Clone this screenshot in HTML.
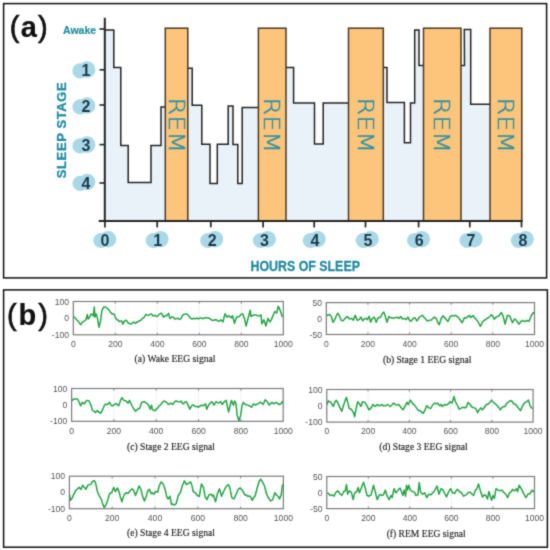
<!DOCTYPE html><html><head><meta charset="utf-8"><style>html,body{margin:0;padding:0;background:#fff;}svg{display:block}</style></head><body>
<svg width="550" height="550" viewBox="0 0 550 550">
<defs><filter id="sf" filterUnits="userSpaceOnUse" x="0" y="0" width="550" height="550" color-interpolation-filters="sRGB"><feConvolveMatrix order="3" kernelMatrix="0.03 0.09 0.03 0.09 0.52 0.09 0.03 0.09 0.03" edgeMode="duplicate"/></filter></defs>
<rect x="0" y="0" width="550" height="550" fill="#fff"/>
<g filter="url(#sf)">
<rect x="3.6" y="3.6" width="543.0" height="274.3" fill="none" stroke="#111" stroke-width="1.5"/>
<rect x="3.6" y="289.9" width="543.8" height="257.3" fill="none" stroke="#111" stroke-width="1.5"/>
<text x="9.8" y="36.6" font-family="Liberation Sans, sans-serif" font-size="29" fill="#111" stroke="#111" stroke-width="0.7" letter-spacing="1.2">(<tspan font-weight="bold" stroke-width="0.2">a</tspan>)</text>
<text x="7.0" y="325.3" font-family="Liberation Sans, sans-serif" font-size="29" fill="#111" stroke="#111" stroke-width="0.7" letter-spacing="1.9">(<tspan font-weight="bold" stroke-width="0.2">b</tspan>)</text>
<polygon points="104.8,221 105,30 113.8,30 113.8,67.6 120.8,67.6 120.8,145.5 128.2,145.5 128.2,182.5 151,182.5 151,145.5 161,145.5 161,107 165.3,107 165.3,28.2 187.8,28.2 187.8,68.2 192.2,68.2 192.2,105.3 201.8,105.3 201.8,144.2 210,144.2 210,183.6 217.3,183.6 217.3,144.2 228.2,144.2 228.2,106 233,106 233,144.5 237.8,144.5 237.8,183.6 242.2,183.6 242.2,107.6 258.4,107.6 258.4,28.2 286,28.2 286,67.6 293.6,67.6 293.6,103 314.5,103 314.5,144 323.2,144 323.2,103 348.5,103 348.5,28.2 383.3,28.2 383.3,67.6 387,67.6 387,102.5 404.4,102.5 404.4,142.8 410.5,142.8 410.5,103 414.7,103 414.7,30 419,30 419,65.5 423.5,65.5 423.5,28.2 461,28.2 461,65.5 464.5,65.5 464.3,29.5 470.7,29.5 470.7,104.2 490,104.2 490,28.2 521.8,28.2 521.8,221" fill="#e9f2f9"/>
<polyline points="105,30 113.8,30 113.8,67.6 120.8,67.6 120.8,145.5 128.2,145.5 128.2,182.5 151,182.5 151,145.5 161,145.5 161,107 165.3,107" fill="none" stroke="#242424" stroke-width="1.5" stroke-linejoin="miter"/>
<polyline points="187.8,68.2 192.2,68.2 192.2,105.3 201.8,105.3 201.8,144.2 210,144.2 210,183.6 217.3,183.6 217.3,144.2 228.2,144.2 228.2,106 233,106 233,144.5 237.8,144.5 237.8,183.6 242.2,183.6 242.2,107.6 258.4,107.6" fill="none" stroke="#242424" stroke-width="1.5" stroke-linejoin="miter"/>
<polyline points="286,67.6 293.6,67.6 293.6,103 314.5,103 314.5,144 323.2,144 323.2,103 348.5,103" fill="none" stroke="#242424" stroke-width="1.5" stroke-linejoin="miter"/>
<polyline points="383.3,67.6 387,67.6 387,102.5 404.4,102.5 404.4,142.8 410.5,142.8 410.5,103 414.7,103 414.7,30 419,30 419,65.5 423.5,65.5" fill="none" stroke="#242424" stroke-width="1.5" stroke-linejoin="miter"/>
<polyline points="461,65.5 464.5,65.5 464.3,29.5 470.7,29.5 470.7,104.2 490,104.2" fill="none" stroke="#242424" stroke-width="1.5" stroke-linejoin="miter"/>
<rect x="165.3" y="28.2" width="22.5" height="192.8" fill="#fcc57b" stroke="#4a3a27" stroke-width="1.5"/>
<text transform="translate(168.65,125.5) rotate(90) scale(1.13,1)" text-anchor="middle" font-family="DejaVu Sans, sans-serif" font-weight="200" font-size="22" letter-spacing="0.3" fill="#2f90a4" stroke="#2f90a4" stroke-width="0.5">REM</text>
<rect x="258.4" y="28.2" width="27.600000000000023" height="192.8" fill="#fcc57b" stroke="#4a3a27" stroke-width="1.5"/>
<text transform="translate(264.3,125.5) rotate(90) scale(1.13,1)" text-anchor="middle" font-family="DejaVu Sans, sans-serif" font-weight="200" font-size="22" letter-spacing="0.3" fill="#2f90a4" stroke="#2f90a4" stroke-width="0.5">REM</text>
<rect x="348.5" y="28.2" width="34.80000000000001" height="192.8" fill="#fcc57b" stroke="#4a3a27" stroke-width="1.5"/>
<text transform="translate(358.0,125.5) rotate(90) scale(1.13,1)" text-anchor="middle" font-family="DejaVu Sans, sans-serif" font-weight="200" font-size="22" letter-spacing="0.3" fill="#2f90a4" stroke="#2f90a4" stroke-width="0.5">REM</text>
<rect x="423.5" y="28.2" width="37.5" height="192.8" fill="#fcc57b" stroke="#4a3a27" stroke-width="1.5"/>
<text transform="translate(434.35,125.5) rotate(90) scale(1.13,1)" text-anchor="middle" font-family="DejaVu Sans, sans-serif" font-weight="200" font-size="22" letter-spacing="0.3" fill="#2f90a4" stroke="#2f90a4" stroke-width="0.5">REM</text>
<rect x="490" y="28.2" width="31.799999999999955" height="192.8" fill="#fcc57b" stroke="#4a3a27" stroke-width="1.5"/>
<text transform="translate(498.0,125.5) rotate(90) scale(1.13,1)" text-anchor="middle" font-family="DejaVu Sans, sans-serif" font-weight="200" font-size="22" letter-spacing="0.3" fill="#2f90a4" stroke="#2f90a4" stroke-width="0.5">REM</text>
<line x1="104.8" y1="17.8" x2="104.8" y2="221.9" stroke="#242424" stroke-width="2"/>
<line x1="98.7" y1="221" x2="522.5" y2="221" stroke="#242424" stroke-width="1.8"/>
<line x1="99.5" y1="29" x2="104.8" y2="29" stroke="#242424" stroke-width="1.6"/>
<line x1="99.5" y1="69.8" x2="104.8" y2="69.8" stroke="#242424" stroke-width="1.6"/>
<line x1="99.5" y1="105" x2="104.8" y2="105" stroke="#242424" stroke-width="1.6"/>
<line x1="99.5" y1="144.6" x2="104.8" y2="144.6" stroke="#242424" stroke-width="1.6"/>
<line x1="99.5" y1="183.0" x2="104.8" y2="183.0" stroke="#242424" stroke-width="1.6"/>
<line x1="104.9" y1="221" x2="104.9" y2="227.4" stroke="#242424" stroke-width="1.7"/>
<line x1="157.2" y1="221" x2="157.2" y2="227.4" stroke="#242424" stroke-width="1.7"/>
<line x1="210.8" y1="221" x2="210.8" y2="227.4" stroke="#242424" stroke-width="1.7"/>
<line x1="263.1" y1="221" x2="263.1" y2="227.4" stroke="#242424" stroke-width="1.7"/>
<line x1="314.2" y1="221" x2="314.2" y2="227.4" stroke="#242424" stroke-width="1.7"/>
<line x1="365.5" y1="221" x2="365.5" y2="227.4" stroke="#242424" stroke-width="1.7"/>
<line x1="418.6" y1="221" x2="418.6" y2="227.4" stroke="#242424" stroke-width="1.7"/>
<line x1="469.8" y1="221" x2="469.8" y2="227.4" stroke="#242424" stroke-width="1.7"/>
<line x1="521.5" y1="221" x2="521.5" y2="227.4" stroke="#242424" stroke-width="1.7"/>
<text x="96.1" y="33.5" text-anchor="end" font-family="Liberation Sans, sans-serif" font-weight="bold" font-size="10.5" fill="#238ca2" stroke="#238ca2" stroke-width="0.2">Awake</text>
<ellipse cx="80.20" cy="70.90" rx="7.80" ry="7.60" fill="#a9d8e8"/><ellipse cx="87.20" cy="69.60" rx="8.20" ry="8.30" fill="#a9d8e8"/>
<text x="86" y="76.1" text-anchor="middle" font-family="Liberation Sans, sans-serif" font-weight="bold" font-size="16" fill="#1c3a47">1</text>
<ellipse cx="80.20" cy="106.80" rx="7.80" ry="7.60" fill="#a9d8e8"/><ellipse cx="87.20" cy="105.50" rx="8.20" ry="8.30" fill="#a9d8e8"/>
<text x="86" y="112.0" text-anchor="middle" font-family="Liberation Sans, sans-serif" font-weight="bold" font-size="16" fill="#1c3a47">2</text>
<ellipse cx="80.20" cy="145.90" rx="7.80" ry="7.60" fill="#a9d8e8"/><ellipse cx="87.20" cy="144.60" rx="8.20" ry="8.30" fill="#a9d8e8"/>
<text x="86" y="151.1" text-anchor="middle" font-family="Liberation Sans, sans-serif" font-weight="bold" font-size="16" fill="#1c3a47">3</text>
<ellipse cx="80.20" cy="183.30" rx="7.80" ry="7.60" fill="#a9d8e8"/><ellipse cx="87.20" cy="182.00" rx="8.20" ry="8.30" fill="#a9d8e8"/>
<text x="86" y="188.5" text-anchor="middle" font-family="Liberation Sans, sans-serif" font-weight="bold" font-size="16" fill="#1c3a47">4</text>
<ellipse cx="101.10" cy="240.50" rx="7.80" ry="7.60" fill="#a9d8e8"/><ellipse cx="108.10" cy="239.20" rx="8.20" ry="8.30" fill="#a9d8e8"/>
<text x="105.0" y="246.0" text-anchor="middle" font-family="Liberation Sans, sans-serif" font-weight="bold" font-size="16" fill="#1c3a47">0</text>
<ellipse cx="153.40" cy="240.50" rx="7.80" ry="7.60" fill="#a9d8e8"/><ellipse cx="160.40" cy="239.20" rx="8.20" ry="8.30" fill="#a9d8e8"/>
<text x="157.7" y="246.0" text-anchor="middle" font-family="Liberation Sans, sans-serif" font-weight="bold" font-size="16" fill="#1c3a47">1</text>
<ellipse cx="208.00" cy="240.50" rx="7.80" ry="7.60" fill="#a9d8e8"/><ellipse cx="215.00" cy="239.20" rx="8.20" ry="8.30" fill="#a9d8e8"/>
<text x="212.2" y="246.0" text-anchor="middle" font-family="Liberation Sans, sans-serif" font-weight="bold" font-size="16" fill="#1c3a47">2</text>
<ellipse cx="260.70" cy="240.50" rx="7.80" ry="7.60" fill="#a9d8e8"/><ellipse cx="267.70" cy="239.20" rx="8.20" ry="8.30" fill="#a9d8e8"/>
<text x="264.5" y="246.0" text-anchor="middle" font-family="Liberation Sans, sans-serif" font-weight="bold" font-size="16" fill="#1c3a47">3</text>
<ellipse cx="310.50" cy="240.50" rx="7.80" ry="7.60" fill="#a9d8e8"/><ellipse cx="317.50" cy="239.20" rx="8.20" ry="8.30" fill="#a9d8e8"/>
<text x="314.9" y="246.0" text-anchor="middle" font-family="Liberation Sans, sans-serif" font-weight="bold" font-size="16" fill="#1c3a47">4</text>
<ellipse cx="363.50" cy="240.50" rx="7.80" ry="7.60" fill="#a9d8e8"/><ellipse cx="370.50" cy="239.20" rx="8.20" ry="8.30" fill="#a9d8e8"/>
<text x="367.9" y="246.0" text-anchor="middle" font-family="Liberation Sans, sans-serif" font-weight="bold" font-size="16" fill="#1c3a47">5</text>
<ellipse cx="414.80" cy="240.50" rx="7.80" ry="7.60" fill="#a9d8e8"/><ellipse cx="421.80" cy="239.20" rx="8.20" ry="8.30" fill="#a9d8e8"/>
<text x="419.3" y="246.0" text-anchor="middle" font-family="Liberation Sans, sans-serif" font-weight="bold" font-size="16" fill="#1c3a47">6</text>
<ellipse cx="467.30" cy="240.50" rx="7.80" ry="7.60" fill="#a9d8e8"/><ellipse cx="474.30" cy="239.20" rx="8.20" ry="8.30" fill="#a9d8e8"/>
<text x="471.0" y="246.0" text-anchor="middle" font-family="Liberation Sans, sans-serif" font-weight="bold" font-size="16" fill="#1c3a47">7</text>
<ellipse cx="518.60" cy="240.50" rx="7.80" ry="7.60" fill="#a9d8e8"/><ellipse cx="525.60" cy="239.20" rx="8.20" ry="8.30" fill="#a9d8e8"/>
<text x="523.0" y="246.0" text-anchor="middle" font-family="Liberation Sans, sans-serif" font-weight="bold" font-size="16" fill="#1c3a47">8</text>
<text transform="translate(65.6,130) rotate(-90)" text-anchor="middle" font-family="Liberation Sans, sans-serif" font-weight="bold" font-size="13" letter-spacing="0.6" fill="#238ca6" stroke="#238ca6" stroke-width="0.3">SLEEP STAGE</text>
<text transform="translate(305.2,271.4) scale(1,1.19)" text-anchor="middle" font-family="Liberation Sans, sans-serif" font-weight="bold" font-size="12.4" fill="#248aa2" stroke="#248aa2" stroke-width="0.25">HOURS OF SLEEP</text>
<line x1="115.30" y1="301.5" x2="115.30" y2="334.8" stroke="#e2e2e2" stroke-width="1" stroke-dasharray="1,1"/>
<line x1="115.30" y1="301.5" x2="115.30" y2="303.5" stroke="#7c7c7c" stroke-width="1"/>
<line x1="115.30" y1="332.8" x2="115.30" y2="334.8" stroke="#7c7c7c" stroke-width="1"/>
<line x1="157.30" y1="301.5" x2="157.30" y2="334.8" stroke="#e2e2e2" stroke-width="1" stroke-dasharray="1,1"/>
<line x1="157.30" y1="301.5" x2="157.30" y2="303.5" stroke="#7c7c7c" stroke-width="1"/>
<line x1="157.30" y1="332.8" x2="157.30" y2="334.8" stroke="#7c7c7c" stroke-width="1"/>
<line x1="199.30" y1="301.5" x2="199.30" y2="334.8" stroke="#e2e2e2" stroke-width="1" stroke-dasharray="1,1"/>
<line x1="199.30" y1="301.5" x2="199.30" y2="303.5" stroke="#7c7c7c" stroke-width="1"/>
<line x1="199.30" y1="332.8" x2="199.30" y2="334.8" stroke="#7c7c7c" stroke-width="1"/>
<line x1="241.30" y1="301.5" x2="241.30" y2="334.8" stroke="#e2e2e2" stroke-width="1" stroke-dasharray="1,1"/>
<line x1="241.30" y1="301.5" x2="241.30" y2="303.5" stroke="#7c7c7c" stroke-width="1"/>
<line x1="241.30" y1="332.8" x2="241.30" y2="334.8" stroke="#7c7c7c" stroke-width="1"/>
<line x1="73.3" y1="318.15" x2="283.3" y2="318.15" stroke="#ececec" stroke-width="1" stroke-dasharray="1,1.5"/>
<polyline points="73.5,316.5 75.3,318.1 77.1,320.3 78.4,321.1 79.6,323.5 80.9,324.7 82.2,322.3 83.5,321.5 84.8,320.6 86.0,319.6 87.3,314.5 88.2,319.0 89.8,317.1 91.0,314.0 92.4,314.5 93.4,316.0 94.3,306.9 94.9,317.1 96.2,313.9 97.5,318.4 99.0,327.3 100.6,320.9 101.9,310.7 103.8,306.9 105.1,307.0 106.4,307.5 107.6,308.8 108.9,309.6 110.2,312.0 112.1,313.9 114.0,313.9 115.2,316.8 116.5,319.6 117.8,319.7 119.1,321.5 120.3,321.1 121.6,320.9 122.9,324.1 124.2,321.4 125.5,320.3 126.8,320.8 128.0,322.8 129.2,323.3 130.5,324.1 131.8,323.7 133.1,322.2 134.3,322.2 135.6,323.5 136.9,322.0 138.2,321.5 139.8,320.8 141.4,319.6 142.5,318.4 144.1,317.3 145.7,314.5 147.3,315.0 148.9,315.2 150.2,314.4 151.5,313.9 152.8,315.7 154.0,315.8 155.2,315.3 156.5,316.5 157.8,316.1 159.1,314.5 160.3,313.5 161.6,313.3 163.5,317.1 165.1,315.8 166.7,315.8 168.6,313.3 169.9,318.4 171.5,317.1 173.1,317.1 175.0,319.0 176.6,318.4 178.2,318.4 179.4,319.3 180.7,319.0 182.0,316.2 183.3,314.5 184.6,314.3 185.8,313.9 187.7,314.5 189.6,317.1 190.9,318.3 192.2,319.0 193.4,318.5 194.7,318.4 196.0,318.7 197.2,318.0 198.5,319.0 199.8,318.0 201.1,318.1 202.4,318.4 203.7,318.5 204.9,317.8 206.2,317.7 207.8,317.7 209.4,318.4 211.1,319.6 212.7,320.5 214.1,320.1 215.5,319.8 216.8,320.1 218.2,321.2 219.6,321.0 220.9,319.8 223.0,321.9 225.0,313.7 227.0,317.1 229.1,315.7 231.1,317.8 232.5,315.7 234.5,323.2 236.6,317.1 237.9,317.1 239.3,316.4 241.0,314.6 242.7,313.7 244.8,319.8 246.1,326.0 248.2,317.8 250.2,310.3 250.9,316.4 252.2,315.8 253.6,315.0 255.0,315.0 256.4,315.0 257.8,316.0 259.1,315.7 261.1,315.0 261.8,323.9 263.9,319.8 265.9,326.0 268.0,318.5 270.0,321.9 271.4,319.6 272.7,316.4 274.8,311.6 276.8,313.0 278.2,306.2 280.2,310.3 282.3,317.1" fill="none" stroke="#25a545" stroke-width="1.5" stroke-linejoin="round"/>
<rect x="73.3" y="301.5" width="210.00" height="33.30" fill="none" stroke="#7c7c7c" stroke-width="1.2"/>
<text x="69.00" y="304.50" text-anchor="end" font-family="Liberation Sans, sans-serif" font-size="8.6" fill="#555">100</text>
<text x="69.00" y="321.15" text-anchor="end" font-family="Liberation Sans, sans-serif" font-size="8.6" fill="#555">0</text>
<text x="69.00" y="337.80" text-anchor="end" font-family="Liberation Sans, sans-serif" font-size="8.6" fill="#555">-100</text>
<text x="73.30" y="347.10" text-anchor="middle" font-family="Liberation Sans, sans-serif" font-size="8.6" fill="#555">0</text>
<text x="115.30" y="347.10" text-anchor="middle" font-family="Liberation Sans, sans-serif" font-size="8.6" fill="#555">200</text>
<text x="157.30" y="347.10" text-anchor="middle" font-family="Liberation Sans, sans-serif" font-size="8.6" fill="#555">400</text>
<text x="199.30" y="347.10" text-anchor="middle" font-family="Liberation Sans, sans-serif" font-size="8.6" fill="#555">600</text>
<text x="241.30" y="347.10" text-anchor="middle" font-family="Liberation Sans, sans-serif" font-size="8.6" fill="#555">800</text>
<text x="283.30" y="347.10" text-anchor="middle" font-family="Liberation Sans, sans-serif" font-size="8.6" fill="#555">1000</text>
<text x="175" y="361.79999999999995" text-anchor="middle" font-family="Liberation Serif, serif" font-size="9.6" fill="#222" stroke="#222" stroke-width="0.15">(a) Wake EEG signal</text>
<line x1="367.94" y1="302.6" x2="367.94" y2="334.5" stroke="#e2e2e2" stroke-width="1" stroke-dasharray="1,1"/>
<line x1="367.94" y1="302.6" x2="367.94" y2="304.6" stroke="#7c7c7c" stroke-width="1"/>
<line x1="367.94" y1="332.5" x2="367.94" y2="334.5" stroke="#7c7c7c" stroke-width="1"/>
<line x1="409.58" y1="302.6" x2="409.58" y2="334.5" stroke="#e2e2e2" stroke-width="1" stroke-dasharray="1,1"/>
<line x1="409.58" y1="302.6" x2="409.58" y2="304.6" stroke="#7c7c7c" stroke-width="1"/>
<line x1="409.58" y1="332.5" x2="409.58" y2="334.5" stroke="#7c7c7c" stroke-width="1"/>
<line x1="451.22" y1="302.6" x2="451.22" y2="334.5" stroke="#e2e2e2" stroke-width="1" stroke-dasharray="1,1"/>
<line x1="451.22" y1="302.6" x2="451.22" y2="304.6" stroke="#7c7c7c" stroke-width="1"/>
<line x1="451.22" y1="332.5" x2="451.22" y2="334.5" stroke="#7c7c7c" stroke-width="1"/>
<line x1="492.86" y1="302.6" x2="492.86" y2="334.5" stroke="#e2e2e2" stroke-width="1" stroke-dasharray="1,1"/>
<line x1="492.86" y1="302.6" x2="492.86" y2="304.6" stroke="#7c7c7c" stroke-width="1"/>
<line x1="492.86" y1="332.5" x2="492.86" y2="334.5" stroke="#7c7c7c" stroke-width="1"/>
<line x1="326.3" y1="318.55" x2="534.5" y2="318.55" stroke="#ececec" stroke-width="1" stroke-dasharray="1,1.5"/>
<polyline points="326.5,315.8 328.1,314.8 329.7,314.5 331.6,317.1 332.9,322.2 334.2,320.8 335.5,317.7 336.8,314.8 338.0,313.3 339.3,315.8 341.2,320.3 343.1,320.9 345.0,318.4 346.2,317.3 347.5,316.5 349.5,319.0 351.4,318.4 353.3,320.3 355.2,315.2 357.1,320.3 358.4,320.1 359.6,319.0 360.9,317.1 362.8,320.9 364.7,318.4 366.0,318.4 367.3,319.6 369.2,316.5 370.5,322.2 372.4,318.4 374.3,317.1 376.2,322.2 378.1,317.7 379.4,317.4 380.6,317.1 382.2,313.7 383.8,312.0 385.1,315.8 387.0,322.2 388.9,316.5 390.2,317.4 391.5,317.7 393.0,318.2 394.5,317.7 395.8,317.5 397.1,317.1 399.0,318.4 400.9,316.5 402.2,319.0 404.1,318.4 406.0,319.6 407.9,317.1 409.8,320.9 411.1,320.9 412.4,319.6 413.6,318.3 414.9,317.7 416.8,320.9 418.1,319.4 419.4,317.1 420.9,316.3 422.5,315.2 423.8,316.9 425.1,318.4 427.0,320.9 428.6,320.5 430.2,320.3 431.4,320.0 432.7,318.4 434.6,317.1 436.5,319.0 437.9,322.7 439.3,324.7 441.0,319.0 442.9,315.8 444.2,317.1 445.5,318.4 446.8,320.2 448.0,321.5 449.9,317.1 451.2,315.7 452.5,315.8 454.1,315.9 455.6,315.2 456.9,316.4 458.2,317.1 460.0,319.8 462.2,322.7 464.4,317.6 465.9,318.1 467.3,316.9 469.5,315.5 470.9,317.6 473.1,315.5 474.6,317.9 476.0,319.1 478.2,322.0 480.4,326.4 482.5,322.0 484.0,320.5 485.5,319.8 486.9,318.5 488.4,317.6 489.9,316.5 491.3,314.7 492.8,316.0 494.2,319.1 496.4,316.9 498.5,316.2 500.0,314.3 501.5,312.5 503.3,316.9 505.1,324.2 507.3,315.5 508.8,315.6 510.2,316.9 512.4,322.7 514.5,319.1 516.0,319.9 517.5,322.0 518.9,324.2 521.1,321.3 522.5,320.5 524.0,321.3 525.5,321.4 526.9,320.5 529.1,321.3 531.3,315.5 533.5,312.5 534.3,314.0" fill="none" stroke="#25a545" stroke-width="1.5" stroke-linejoin="round"/>
<rect x="326.3" y="302.6" width="208.20" height="31.90" fill="none" stroke="#7c7c7c" stroke-width="1.2"/>
<text x="322.00" y="305.60" text-anchor="end" font-family="Liberation Sans, sans-serif" font-size="8.6" fill="#555">50</text>
<text x="322.00" y="321.55" text-anchor="end" font-family="Liberation Sans, sans-serif" font-size="8.6" fill="#555">0</text>
<text x="322.00" y="337.50" text-anchor="end" font-family="Liberation Sans, sans-serif" font-size="8.6" fill="#555">-50</text>
<text x="326.30" y="346.80" text-anchor="middle" font-family="Liberation Sans, sans-serif" font-size="8.6" fill="#555">0</text>
<text x="367.94" y="346.80" text-anchor="middle" font-family="Liberation Sans, sans-serif" font-size="8.6" fill="#555">200</text>
<text x="409.58" y="346.80" text-anchor="middle" font-family="Liberation Sans, sans-serif" font-size="8.6" fill="#555">400</text>
<text x="451.22" y="346.80" text-anchor="middle" font-family="Liberation Sans, sans-serif" font-size="8.6" fill="#555">600</text>
<text x="492.86" y="346.80" text-anchor="middle" font-family="Liberation Sans, sans-serif" font-size="8.6" fill="#555">800</text>
<text x="534.50" y="346.80" text-anchor="middle" font-family="Liberation Sans, sans-serif" font-size="8.6" fill="#555">1000</text>
<text x="427.2" y="362.7" text-anchor="middle" font-family="Liberation Serif, serif" font-size="9.6" fill="#222" stroke="#222" stroke-width="0.15">(b) Stage 1 EEG signal</text>
<line x1="113.92" y1="388.5" x2="113.92" y2="421.3" stroke="#e2e2e2" stroke-width="1" stroke-dasharray="1,1"/>
<line x1="113.92" y1="388.5" x2="113.92" y2="390.5" stroke="#7c7c7c" stroke-width="1"/>
<line x1="113.92" y1="419.3" x2="113.92" y2="421.3" stroke="#7c7c7c" stroke-width="1"/>
<line x1="156.24" y1="388.5" x2="156.24" y2="421.3" stroke="#e2e2e2" stroke-width="1" stroke-dasharray="1,1"/>
<line x1="156.24" y1="388.5" x2="156.24" y2="390.5" stroke="#7c7c7c" stroke-width="1"/>
<line x1="156.24" y1="419.3" x2="156.24" y2="421.3" stroke="#7c7c7c" stroke-width="1"/>
<line x1="198.56" y1="388.5" x2="198.56" y2="421.3" stroke="#e2e2e2" stroke-width="1" stroke-dasharray="1,1"/>
<line x1="198.56" y1="388.5" x2="198.56" y2="390.5" stroke="#7c7c7c" stroke-width="1"/>
<line x1="198.56" y1="419.3" x2="198.56" y2="421.3" stroke="#7c7c7c" stroke-width="1"/>
<line x1="240.88" y1="388.5" x2="240.88" y2="421.3" stroke="#e2e2e2" stroke-width="1" stroke-dasharray="1,1"/>
<line x1="240.88" y1="388.5" x2="240.88" y2="390.5" stroke="#7c7c7c" stroke-width="1"/>
<line x1="240.88" y1="419.3" x2="240.88" y2="421.3" stroke="#7c7c7c" stroke-width="1"/>
<line x1="71.6" y1="404.90" x2="283.2" y2="404.90" stroke="#ececec" stroke-width="1" stroke-dasharray="1,1.5"/>
<polyline points="71.8,401.0 73.5,399.0 75.5,399.0 77.5,399.0 78.9,401.7 80.5,405.8 82.3,402.4 84.4,403.8 85.8,401.4 87.1,400.4 89.1,401.0 91.2,405.8 92.5,410.6 93.9,411.1 95.3,412.6 97.3,410.6 98.7,412.0 100.7,413.3 102.8,409.2 104.8,404.5 106.2,404.3 107.5,404.5 109.6,402.4 111.6,405.8 113.0,405.8 114.4,404.5 115.8,403.7 117.1,404.5 118.7,405.8 120.5,400.4 121.9,397.6 123.9,400.4 126.0,401.0 128.0,403.1 129.4,400.4 131.4,404.5 133.5,408.5 135.5,411.3 137.5,409.2 139.6,408.5 141.6,402.4 142.8,402.0 144.1,401.7 145.4,402.5 146.8,403.1 148.9,405.8 150.2,409.2 151.6,405.1 152.3,409.2 153.6,410.6 155.0,410.6 156.4,409.2 157.8,408.1 159.1,405.8 160.4,405.1 161.8,403.1 163.2,401.7 164.5,401.0 166.6,402.4 168.6,404.5 170.7,403.1 172.7,404.5 174.1,402.6 175.5,401.0 176.8,401.1 178.2,401.7 179.6,402.0 180.9,401.0 182.2,403.2 183.6,403.8 185.0,402.1 186.4,401.7 188.4,405.8 189.8,409.2 191.2,406.6 192.5,405.1 193.8,405.3 195.2,406.5 196.9,406.4 198.6,407.2 200.0,406.1 201.4,405.1 203.4,405.8 205.5,403.8 206.8,409.2 208.9,404.5 210.9,402.4 212.0,401.7 214.0,405.1 216.1,401.7 217.4,402.6 218.8,403.1 220.9,401.7 222.2,404.5 224.3,401.7 226.3,400.4 227.0,404.5 228.6,412.0 230.4,404.5 231.4,400.4 232.5,403.1 233.5,405.1 234.5,401.0 235.9,403.1 237.2,415.4 238.9,420.8 240.6,415.4 242.0,405.8 243.4,402.4 245.4,404.5 247.5,405.1 249.5,405.8 251.5,407.2 253.6,403.8 255.6,405.1 257.0,404.0 258.4,403.8 259.8,402.2 261.1,402.4 263.1,404.5 265.2,399.7 267.2,401.7 269.3,405.1 270.6,403.6 272.0,402.4 274.0,403.8 276.1,402.4 277.5,403.2 278.8,404.5 280.9,403.8 282.9,401.0" fill="none" stroke="#25a545" stroke-width="1.5" stroke-linejoin="round"/>
<rect x="71.6" y="388.5" width="211.60" height="32.80" fill="none" stroke="#7c7c7c" stroke-width="1.2"/>
<text x="67.30" y="391.50" text-anchor="end" font-family="Liberation Sans, sans-serif" font-size="8.6" fill="#555">100</text>
<text x="67.30" y="407.90" text-anchor="end" font-family="Liberation Sans, sans-serif" font-size="8.6" fill="#555">0</text>
<text x="67.30" y="424.30" text-anchor="end" font-family="Liberation Sans, sans-serif" font-size="8.6" fill="#555">-100</text>
<text x="71.60" y="433.60" text-anchor="middle" font-family="Liberation Sans, sans-serif" font-size="8.6" fill="#555">0</text>
<text x="113.92" y="433.60" text-anchor="middle" font-family="Liberation Sans, sans-serif" font-size="8.6" fill="#555">200</text>
<text x="156.24" y="433.60" text-anchor="middle" font-family="Liberation Sans, sans-serif" font-size="8.6" fill="#555">400</text>
<text x="198.56" y="433.60" text-anchor="middle" font-family="Liberation Sans, sans-serif" font-size="8.6" fill="#555">600</text>
<text x="240.88" y="433.60" text-anchor="middle" font-family="Liberation Sans, sans-serif" font-size="8.6" fill="#555">800</text>
<text x="283.20" y="433.60" text-anchor="middle" font-family="Liberation Sans, sans-serif" font-size="8.6" fill="#555">1000</text>
<text x="171" y="450.29999999999995" text-anchor="middle" font-family="Liberation Serif, serif" font-size="9.6" fill="#222" stroke="#222" stroke-width="0.15">(c) Stage 2 EEG signal</text>
<line x1="368.06" y1="389.5" x2="368.06" y2="422.1" stroke="#e2e2e2" stroke-width="1" stroke-dasharray="1,1"/>
<line x1="368.06" y1="389.5" x2="368.06" y2="391.5" stroke="#7c7c7c" stroke-width="1"/>
<line x1="368.06" y1="420.1" x2="368.06" y2="422.1" stroke="#7c7c7c" stroke-width="1"/>
<line x1="409.32" y1="389.5" x2="409.32" y2="422.1" stroke="#e2e2e2" stroke-width="1" stroke-dasharray="1,1"/>
<line x1="409.32" y1="389.5" x2="409.32" y2="391.5" stroke="#7c7c7c" stroke-width="1"/>
<line x1="409.32" y1="420.1" x2="409.32" y2="422.1" stroke="#7c7c7c" stroke-width="1"/>
<line x1="450.58" y1="389.5" x2="450.58" y2="422.1" stroke="#e2e2e2" stroke-width="1" stroke-dasharray="1,1"/>
<line x1="450.58" y1="389.5" x2="450.58" y2="391.5" stroke="#7c7c7c" stroke-width="1"/>
<line x1="450.58" y1="420.1" x2="450.58" y2="422.1" stroke="#7c7c7c" stroke-width="1"/>
<line x1="491.84" y1="389.5" x2="491.84" y2="422.1" stroke="#e2e2e2" stroke-width="1" stroke-dasharray="1,1"/>
<line x1="491.84" y1="389.5" x2="491.84" y2="391.5" stroke="#7c7c7c" stroke-width="1"/>
<line x1="491.84" y1="420.1" x2="491.84" y2="422.1" stroke="#7c7c7c" stroke-width="1"/>
<line x1="326.8" y1="405.80" x2="533.1" y2="405.80" stroke="#ececec" stroke-width="1" stroke-dasharray="1,1.5"/>
<polyline points="327.2,404.5 328.1,401.0 330.2,401.7 331.8,403.8 333.2,406.5 335.0,401.7 336.3,400.4 337.7,402.4 339.7,407.2 341.8,411.3 343.8,404.5 345.2,400.4 346.5,397.4 347.9,403.1 349.3,408.5 351.3,409.2 353.4,412.6 354.7,416.7 356.1,408.5 357.7,401.7 359.5,403.8 360.9,406.5 362.6,401.7 365.0,402.4 367.0,405.8 369.0,409.9 371.1,407.9 373.1,404.5 375.2,406.5 377.2,404.5 379.3,405.8 380.6,405.3 382.0,404.5 383.4,406.0 384.7,405.8 386.1,405.5 387.5,404.5 388.9,405.5 390.2,406.5 391.9,405.0 393.6,403.1 395.1,404.4 396.7,405.1 398.8,404.5 400.8,407.2 402.9,409.9 404.9,406.5 407.0,402.4 408.3,404.5 410.4,400.1 412.4,403.1 414.5,405.1 416.5,407.9 418.5,410.6 419.9,410.5 421.3,412.0 423.3,413.3 425.4,409.2 426.7,405.8 428.8,407.9 430.8,408.5 432.9,404.5 434.9,403.1 436.2,403.8 437.6,403.1 439.7,405.8 441.0,404.5 442.4,406.5 444.5,404.5 445.9,405.0 447.2,404.5 448.5,403.8 449.9,401.7 452.0,403.1 454.0,396.5 455.4,401.7 457.0,404.5 459.2,409.2 461.5,407.9 463.5,407.2 464.9,407.7 466.3,407.2 468.0,402.4 470.1,404.5 472.1,407.2 474.2,407.9 475.8,408.5 477.6,412.6 479.6,409.2 481.0,407.9 482.4,409.9 484.4,407.2 486.5,404.5 488.5,403.8 489.9,402.4 491.6,400.1 493.3,402.4 495.3,403.8 496.6,405.0 498.0,406.5 500.4,409.9 502.1,407.2 503.5,406.7 504.9,406.5 506.9,403.1 509.0,401.7 510.4,400.6 511.7,401.0 513.7,403.8 515.8,404.5 517.8,407.2 519.1,409.1 520.5,410.6 522.6,405.8 524.0,403.3 525.3,402.4 526.7,401.7 528.5,400.1 530.1,405.8 531.5,407.9 532.8,408.5" fill="none" stroke="#25a545" stroke-width="1.5" stroke-linejoin="round"/>
<rect x="326.8" y="389.5" width="206.30" height="32.60" fill="none" stroke="#7c7c7c" stroke-width="1.2"/>
<text x="322.50" y="392.50" text-anchor="end" font-family="Liberation Sans, sans-serif" font-size="8.6" fill="#555">100</text>
<text x="322.50" y="408.80" text-anchor="end" font-family="Liberation Sans, sans-serif" font-size="8.6" fill="#555">0</text>
<text x="322.50" y="425.10" text-anchor="end" font-family="Liberation Sans, sans-serif" font-size="8.6" fill="#555">-100</text>
<text x="326.80" y="434.40" text-anchor="middle" font-family="Liberation Sans, sans-serif" font-size="8.6" fill="#555">0</text>
<text x="368.06" y="434.40" text-anchor="middle" font-family="Liberation Sans, sans-serif" font-size="8.6" fill="#555">200</text>
<text x="409.32" y="434.40" text-anchor="middle" font-family="Liberation Sans, sans-serif" font-size="8.6" fill="#555">400</text>
<text x="450.58" y="434.40" text-anchor="middle" font-family="Liberation Sans, sans-serif" font-size="8.6" fill="#555">600</text>
<text x="491.84" y="434.40" text-anchor="middle" font-family="Liberation Sans, sans-serif" font-size="8.6" fill="#555">800</text>
<text x="533.10" y="434.40" text-anchor="middle" font-family="Liberation Sans, sans-serif" font-size="8.6" fill="#555">1000</text>
<text x="423.5" y="450.29999999999995" text-anchor="middle" font-family="Liberation Serif, serif" font-size="9.6" fill="#222" stroke="#222" stroke-width="0.15">(d) Stage 3 EEG signal</text>
<line x1="112.20" y1="476.2" x2="112.20" y2="508.7" stroke="#e2e2e2" stroke-width="1" stroke-dasharray="1,1"/>
<line x1="112.20" y1="476.2" x2="112.20" y2="478.2" stroke="#7c7c7c" stroke-width="1"/>
<line x1="112.20" y1="506.7" x2="112.20" y2="508.7" stroke="#7c7c7c" stroke-width="1"/>
<line x1="155.00" y1="476.2" x2="155.00" y2="508.7" stroke="#e2e2e2" stroke-width="1" stroke-dasharray="1,1"/>
<line x1="155.00" y1="476.2" x2="155.00" y2="478.2" stroke="#7c7c7c" stroke-width="1"/>
<line x1="155.00" y1="506.7" x2="155.00" y2="508.7" stroke="#7c7c7c" stroke-width="1"/>
<line x1="197.80" y1="476.2" x2="197.80" y2="508.7" stroke="#e2e2e2" stroke-width="1" stroke-dasharray="1,1"/>
<line x1="197.80" y1="476.2" x2="197.80" y2="478.2" stroke="#7c7c7c" stroke-width="1"/>
<line x1="197.80" y1="506.7" x2="197.80" y2="508.7" stroke="#7c7c7c" stroke-width="1"/>
<line x1="240.60" y1="476.2" x2="240.60" y2="508.7" stroke="#e2e2e2" stroke-width="1" stroke-dasharray="1,1"/>
<line x1="240.60" y1="476.2" x2="240.60" y2="478.2" stroke="#7c7c7c" stroke-width="1"/>
<line x1="240.60" y1="506.7" x2="240.60" y2="508.7" stroke="#7c7c7c" stroke-width="1"/>
<line x1="69.4" y1="492.45" x2="283.4" y2="492.45" stroke="#ececec" stroke-width="1" stroke-dasharray="1,1.5"/>
<polyline points="69.6,494.9 70.4,500.3 72.1,498.3 73.5,494.9 75.5,490.8 77.6,488.7 79.0,487.4 81.0,489.4 82.6,485.3 84.4,487.4 85.8,489.4 87.8,485.3 89.9,484.6 91.2,484.0 92.6,481.2 94.6,480.8 96.0,484.6 97.4,491.5 99.4,496.2 101.5,499.6 102.8,504.4 104.2,507.5 106.2,504.4 108.3,498.3 109.6,493.5 111.7,492.8 113.7,487.4 115.4,491.5 117.5,488.0 119.2,492.1 120.5,497.6 121.9,501.7 124.0,494.9 126.0,492.8 128.0,493.5 130.1,490.8 132.1,488.7 133.5,490.1 135.5,495.5 137.6,490.1 139.0,486.0 140.7,488.7 142.8,496.9 144.5,501.0 146.2,496.2 148.2,490.1 149.6,489.4 151.0,493.5 152.3,492.8 153.7,494.2 155.7,491.5 157.8,492.1 159.1,486.0 161.2,481.9 163.2,484.0 165.3,490.1 166.6,496.2 168.0,499.0 170.0,496.2 171.4,504.4 172.8,504.0 174.1,505.1 176.2,503.7 178.2,495.5 180.3,492.8 182.3,486.0 184.4,480.8 186.4,484.6 188.5,483.3 190.5,481.9 191.9,485.3 193.2,491.5 195.3,492.8 197.3,495.5 199.4,496.2 201.4,483.9 203.5,487.4 205.1,496.9 206.9,499.6 208.9,494.9 211.0,494.2 212.7,496.2 213.4,494.9 215.5,501.7 217.5,493.5 219.5,488.7 221.6,496.2 223.6,491.5 225.7,487.4 227.1,485.5 228.4,484.6 229.8,487.4 231.8,497.6 233.9,499.0 235.9,494.9 238.0,489.4 240.3,488.0 242.7,490.8 244.8,494.9 246.2,494.9 247.5,496.2 248.8,495.9 250.2,496.2 252.3,500.3 253.7,497.4 255.0,496.2 257.0,488.7 259.1,481.2 260.7,479.2 262.5,481.9 264.5,486.0 266.6,494.2 268.6,498.3 270.7,501.0 272.7,499.6 274.8,492.8 276.8,495.5 278.1,496.4 279.5,499.0 281.2,494.9 282.3,486.0 283.2,484.0" fill="none" stroke="#25a545" stroke-width="1.5" stroke-linejoin="round"/>
<rect x="69.4" y="476.2" width="214.00" height="32.50" fill="none" stroke="#7c7c7c" stroke-width="1.2"/>
<text x="65.10" y="479.20" text-anchor="end" font-family="Liberation Sans, sans-serif" font-size="8.6" fill="#555">100</text>
<text x="65.10" y="495.45" text-anchor="end" font-family="Liberation Sans, sans-serif" font-size="8.6" fill="#555">0</text>
<text x="65.10" y="511.70" text-anchor="end" font-family="Liberation Sans, sans-serif" font-size="8.6" fill="#555">-100</text>
<text x="69.40" y="521.00" text-anchor="middle" font-family="Liberation Sans, sans-serif" font-size="8.6" fill="#555">0</text>
<text x="112.20" y="521.00" text-anchor="middle" font-family="Liberation Sans, sans-serif" font-size="8.6" fill="#555">200</text>
<text x="155.00" y="521.00" text-anchor="middle" font-family="Liberation Sans, sans-serif" font-size="8.6" fill="#555">400</text>
<text x="197.80" y="521.00" text-anchor="middle" font-family="Liberation Sans, sans-serif" font-size="8.6" fill="#555">600</text>
<text x="240.60" y="521.00" text-anchor="middle" font-family="Liberation Sans, sans-serif" font-size="8.6" fill="#555">800</text>
<text x="283.40" y="521.00" text-anchor="middle" font-family="Liberation Sans, sans-serif" font-size="8.6" fill="#555">1000</text>
<text x="171" y="536.1" text-anchor="middle" font-family="Liberation Serif, serif" font-size="9.6" fill="#222" stroke="#222" stroke-width="0.15">(e) Stage 4 EEG signal</text>
<line x1="368.34" y1="476.5" x2="368.34" y2="508.6" stroke="#e2e2e2" stroke-width="1" stroke-dasharray="1,1"/>
<line x1="368.34" y1="476.5" x2="368.34" y2="478.5" stroke="#7c7c7c" stroke-width="1"/>
<line x1="368.34" y1="506.6" x2="368.34" y2="508.6" stroke="#7c7c7c" stroke-width="1"/>
<line x1="409.88" y1="476.5" x2="409.88" y2="508.6" stroke="#e2e2e2" stroke-width="1" stroke-dasharray="1,1"/>
<line x1="409.88" y1="476.5" x2="409.88" y2="478.5" stroke="#7c7c7c" stroke-width="1"/>
<line x1="409.88" y1="506.6" x2="409.88" y2="508.6" stroke="#7c7c7c" stroke-width="1"/>
<line x1="451.42" y1="476.5" x2="451.42" y2="508.6" stroke="#e2e2e2" stroke-width="1" stroke-dasharray="1,1"/>
<line x1="451.42" y1="476.5" x2="451.42" y2="478.5" stroke="#7c7c7c" stroke-width="1"/>
<line x1="451.42" y1="506.6" x2="451.42" y2="508.6" stroke="#7c7c7c" stroke-width="1"/>
<line x1="492.96" y1="476.5" x2="492.96" y2="508.6" stroke="#e2e2e2" stroke-width="1" stroke-dasharray="1,1"/>
<line x1="492.96" y1="476.5" x2="492.96" y2="478.5" stroke="#7c7c7c" stroke-width="1"/>
<line x1="492.96" y1="506.6" x2="492.96" y2="508.6" stroke="#7c7c7c" stroke-width="1"/>
<line x1="326.8" y1="492.55" x2="534.5" y2="492.55" stroke="#ececec" stroke-width="1" stroke-dasharray="1,1.5"/>
<polyline points="327.2,492.8 328.5,493.5 330.2,495.5 332.2,494.9 334.0,496.2 335.6,492.8 337.7,490.8 339.7,493.5 341.8,495.5 343.8,491.5 345.2,490.8 346.5,484.6 347.6,494.2 349.3,490.8 351.3,492.1 353.1,499.6 354.7,492.8 356.8,491.5 358.1,487.4 359.5,492.8 361.5,487.4 363.6,482.2 365.4,488.7 367.0,495.5 369.0,496.2 371.1,494.9 373.5,485.3 375.2,491.5 377.2,499.6 379.3,494.9 380.6,494.6 382.0,495.5 383.4,494.9 385.4,490.1 387.2,496.2 389.1,499.6 390.9,495.5 392.2,497.6 394.0,488.7 396.0,492.8 398.1,490.1 400.1,488.0 401.5,491.5 402.9,495.5 404.2,490.1 405.6,496.2 406.5,485.3 407.6,490.1 408.7,485.3 410.4,490.1 412.4,491.5 414.5,492.1 415.8,495.5 417.9,494.9 419.2,482.6 420.6,492.1 422.6,494.2 424.7,492.8 426.7,497.6 428.8,494.2 430.8,494.9 432.9,492.8 434.9,490.1 437.0,486.0 439.0,494.2 441.0,488.7 443.1,490.1 444.7,493.5 446.5,496.9 448.5,492.1 450.6,488.7 452.6,492.8 454.7,493.5 456.0,490.7 457.4,489.4 459.5,491.5 461.5,492.8 463.5,496.2 464.9,495.3 466.3,494.9 468.0,492.8 470.1,492.1 472.1,494.2 473.5,495.5 475.5,490.1 476.9,488.7 478.5,484.0 479.6,488.0 481.0,492.8 482.4,496.9 484.4,494.9 485.8,495.5 487.5,499.0 488.9,491.5 490.3,496.2 491.6,500.3 493.0,495.5 494.4,498.3 496.0,488.7 498.0,490.1 500.1,490.8 502.1,490.1 503.5,492.1 504.9,493.5 506.2,494.7 507.6,497.6 509.6,492.8 511.0,491.8 512.4,489.4 514.4,490.8 516.5,488.7 517.5,491.5 519.2,485.3 521.2,488.7 523.3,492.8 524.6,495.4 526.0,497.6 528.0,494.2 530.1,493.5 532.1,490.1 534.2,492.1" fill="none" stroke="#25a545" stroke-width="1.5" stroke-linejoin="round"/>
<rect x="326.8" y="476.5" width="207.70" height="32.10" fill="none" stroke="#7c7c7c" stroke-width="1.2"/>
<text x="322.50" y="479.50" text-anchor="end" font-family="Liberation Sans, sans-serif" font-size="8.6" fill="#555">50</text>
<text x="322.50" y="495.55" text-anchor="end" font-family="Liberation Sans, sans-serif" font-size="8.6" fill="#555">0</text>
<text x="322.50" y="511.60" text-anchor="end" font-family="Liberation Sans, sans-serif" font-size="8.6" fill="#555">-50</text>
<text x="326.80" y="520.90" text-anchor="middle" font-family="Liberation Sans, sans-serif" font-size="8.6" fill="#555">0</text>
<text x="368.34" y="520.90" text-anchor="middle" font-family="Liberation Sans, sans-serif" font-size="8.6" fill="#555">200</text>
<text x="409.88" y="520.90" text-anchor="middle" font-family="Liberation Sans, sans-serif" font-size="8.6" fill="#555">400</text>
<text x="451.42" y="520.90" text-anchor="middle" font-family="Liberation Sans, sans-serif" font-size="8.6" fill="#555">600</text>
<text x="492.96" y="520.90" text-anchor="middle" font-family="Liberation Sans, sans-serif" font-size="8.6" fill="#555">800</text>
<text x="534.50" y="520.90" text-anchor="middle" font-family="Liberation Sans, sans-serif" font-size="8.6" fill="#555">1000</text>
<text x="426.2" y="537.4" text-anchor="middle" font-family="Liberation Serif, serif" font-size="9.6" fill="#222" stroke="#222" stroke-width="0.15">(f) REM EEG signal</text>
</g>
</svg></body></html>
